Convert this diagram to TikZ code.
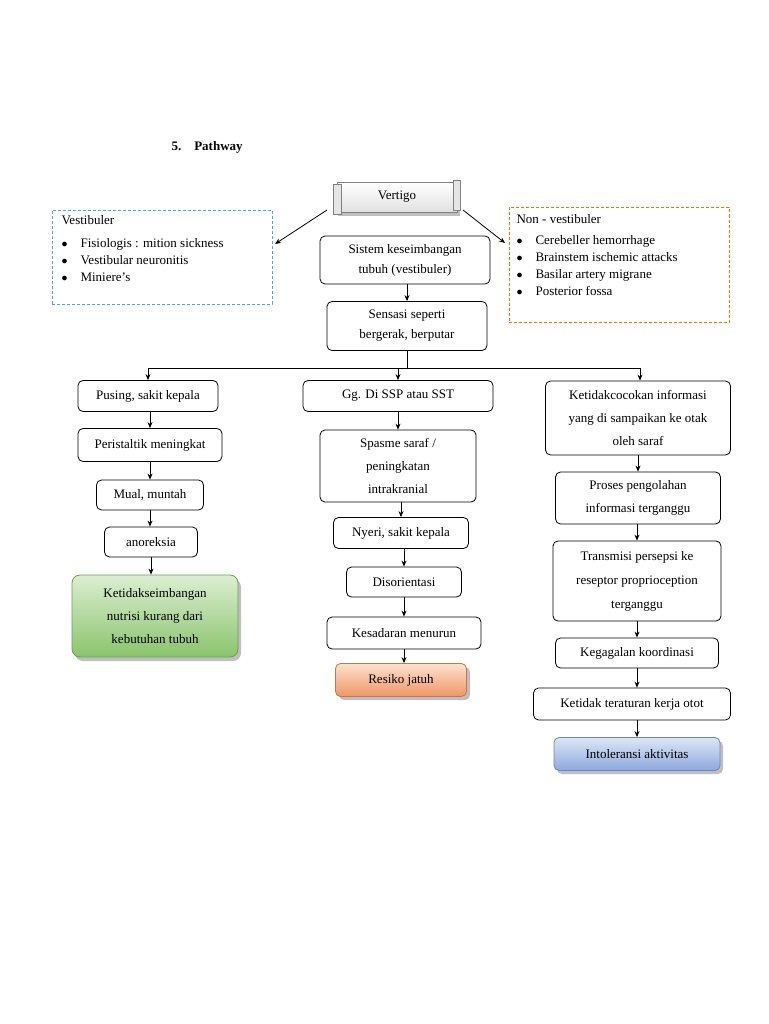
\documentclass[tikz,border=0pt]{standalone}
\usepackage{fontspec}
\setmainfont{Liberation Serif}
\usetikzlibrary{arrows.meta}
\definecolor{blbot}{RGB}{140,168,222}
\definecolor{bltop}{RGB}{222,230,245}
\definecolor{gnbot}{RGB}{138,196,108}
\definecolor{gntop}{RGB}{220,238,210}
\definecolor{orbot}{RGB}{240,150,100}
\definecolor{ortop}{RGB}{252,226,206}
\begin{document}
\begin{tikzpicture}[x=1pt,y=-1pt,
  box/.style={draw,line width=0.8pt,rounded corners=5pt,align=center,font=\fontsize{13}{20}\selectfont,inner sep=2pt},
  arr/.style={-{Stealth[length=6pt,width=5pt]},line width=0.8pt},
  ln/.style={line width=0.8pt}]
\useasboundingbox (0,0) rectangle (768,1024);
\node[font=\bfseries\fontsize{13}{14}\selectfont,anchor=west] (title) at (168,147) {5.\quad Pathway};
% scroll
\fill[black!25] (338,185) rectangle (460,216);
\node[draw=black!50,top color=white,bottom color=black!12,minimum width=120pt,minimum height=30pt,font=\fontsize{13}{14}\selectfont] (vert) at (397,197) {Vertigo};
\draw[draw=black!50,fill=black!10] (333,184) rectangle (341,214);
\draw[draw=black!50,fill=black!10] (453,180) rectangle (460,210);
% side boxes
\node[draw=cyan!70!blue!70,dash pattern=on 3pt off 2pt,line width=0.8pt,minimum width=220pt,minimum height=94pt] (vest) at (162,257) {};
\node[anchor=north west,align=left,font=\fontsize{13}{17}\selectfont] (vt) at (58,212) {Vestibuler\\[6pt]
$\bullet$\quad Fisiologis : mition sickness\\ $\bullet$\quad Vestibular neuronitis\\ $\bullet$\quad Miniere's};
\node[draw=orange!85!red,dash pattern=on 3pt off 2pt,line width=1pt,minimum width=220pt,minimum height=115pt] (nvest) at (619,265) {};
\node[anchor=north west,align=left,font=\fontsize{13}{17}\selectfont] (nt) at (513,211) {Non - vestibuler\\[4pt]
$\bullet$\quad Cerebeller hemorrhage\\ $\bullet$\quad Brainstem ischemic attacks\\ $\bullet$\quad Basilar artery migrane\\ $\bullet$\quad Posterior fossa};
\coordinate (v1) at (327,210); \coordinate (v2) at (275,244);
\coordinate (v3) at (463,210); \coordinate (v4) at (505,243);
\draw[arr] (v1) -- (v2);
\draw[arr] (v3) -- (v4);
% center
\node[box,minimum width=170pt,minimum height=48pt] (sis) at (405,260) {Sistem keseimbangan\\tubuh (vestibuler)};
\node[box,minimum width=160pt,minimum height=49pt] (sen) at (407,326) {Sensasi seperti\\bergerak, berputar};
\draw[arr] (sis.south -| sen) -- (sen.north);
\coordinate (j) at (407,368);
\coordinate (jl) at (148,368); \coordinate (jr) at (640,368); \coordinate (jm) at (398,368);
\draw[ln] (sen.south) -- (j);
\draw[ln] (jl) -- (jr);
% left
\node[box,minimum width=140pt,minimum height=31pt] (pus) at (148,396) {Pusing, sakit kepala};
\node[box,minimum width=144pt,minimum height=33pt] (per) at (150,445) {Peristaltik meningkat};
\node[box,minimum width=107pt,minimum height=30pt] (mua) at (150,495) {Mual, muntah};
\node[box,minimum width=93pt,minimum height=30pt] (ano) at (151,542) {anoreksia};
\fill[black!25,rounded corners=8pt] (75,579) rectangle (241,661);
\node[box,rounded corners=8pt,draw=gnbot!80!black,top color=gntop,bottom color=gnbot,minimum width=166pt,minimum height=82pt,font=\fontsize{13}{23}\selectfont] (ket) at (155,616) {Ketidakseimbangan\\nutrisi kurang dari\\kebutuhan tubuh};
\draw[arr] (jl) -- (pus.north);
\draw[arr] (pus.south -| 150,0) -- (per.north);
\draw[arr] (per.south) -- (mua.north);
\draw[arr] (mua.south) -- (mua.south |- ano.north);
\draw[arr] (ano.south) -- (ano.south |- ket.north);
% middle
\node[box,minimum width=190pt,minimum height=31pt] (gg) at (398,396) {Gg. Di SSP atau SST};
\node[box,minimum width=156pt,minimum height=72pt,font=\fontsize{13}{23}\selectfont] (spa) at (398,466) {Spasme saraf /\\peningkatan\\intrakranial};
\node[box,minimum width=135pt,minimum height=31pt] (nye) at (401,533) {Nyeri, sakit kepala};
\node[box,minimum width=115pt,minimum height=30pt] (dis) at (404,582) {Disorientasi};
\node[box,minimum width=154pt,minimum height=32pt] (kes) at (404,633) {Kesadaran menurun};
\fill[black!25,rounded corners=5pt] (339,667) rectangle (470,700);
\node[box,draw=orbot!80!black,top color=ortop,bottom color=orbot,minimum width=131pt,minimum height=33pt] (res) at (401,680) {Resiko jatuh};
\draw[arr] (jm) -- (gg.north);
\draw[arr] (gg.south) -- (spa.north);
\draw[arr] (spa.south -| nye) -- (nye.north);
\draw[arr] (nye.south -| dis) -- (dis.north);
\draw[arr] (dis.south) -- (kes.north);
\draw[arr] (kes.south) -- (kes.south |- res.north);
% right
\node[box,minimum width=185pt,minimum height=74pt,font=\fontsize{13}{23}\selectfont] (kc) at (638,418) {Ketidakcocokan informasi\\yang di sampaikan ke otak\\oleh saraf};
\node[box,minimum width=165pt,minimum height=52pt,font=\fontsize{13}{23}\selectfont] (pro) at (638,498) {Proses pengolahan\\informasi terganggu};
\node[box,minimum width=168pt,minimum height=80pt,font=\fontsize{13}{24}\selectfont] (tra) at (637,581) {Transmisi persepsi ke\\reseptor proprioception\\terganggu};
\node[box,minimum width=163pt,minimum height=30pt] (keg) at (637,653) {Kegagalan koordinasi};
\node[box,minimum width=197pt,minimum height=32pt] (kt) at (632,704) {Ketidak teraturan kerja otot};
\fill[black!25,rounded corners=5pt] (557,741) rectangle (723,774);
\node[box,draw=blbot!80!black,top color=bltop,bottom color=blbot,minimum width=166pt,minimum height=33pt] (int) at (637,754) {Intoleransi aktivitas};
\draw[arr] (jr) -- (kc.north -| jr);
\draw[arr] (kc.south -| pro) -- (pro.north);
\draw[arr] (pro.south -| tra) -- (tra.north);
\draw[arr] (tra.south) -- (keg.north);
\draw[arr] (keg.south) -- (keg.south |- kt.north);
\draw[arr] (kt.south -| int) -- (int.north);
\end{tikzpicture}
\end{document}
